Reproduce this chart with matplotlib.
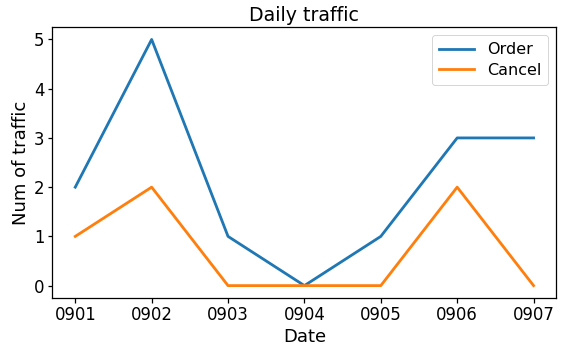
import matplotlib
matplotlib.use("Agg")
import matplotlib.pyplot as plt

dates  = ["0901", "0902", "0903", "0904", "0905", "0906", "0907"]
order  = [2, 5, 1, 0, 1, 3, 3]
cancel = [1, 2, 0, 0, 0, 2, 0]

plt.rcParams.update({
    "font.size": 16.5,
    "axes.labelsize": 18,
    "axes.titlesize": 19,
    "xtick.labelsize": 16.5,
    "ytick.labelsize": 16.5,
    "legend.fontsize": 16,
    "xtick.major.size": 4.5,
    "ytick.major.size": 4.5,
    "xtick.major.width": 1.25,
    "ytick.major.width": 1.25,
    "axes.linewidth": 1.25,
})

fig, ax = plt.subplots(figsize=(569/72, 362/72), dpi=72)
ax.plot(dates, order, label="Order", lw=2.8)
ax.plot(dates, cancel, label="Cancel", lw=2.8)
ax.set_title("Daily traffic")
ax.set_xlabel("Date")
ax.set_ylabel("Num of traffic")
ax.legend(loc="upper right", handlelength=2.2, labelspacing=0.35, borderpad=0.45)

fig.subplots_adjust(left=0.092, right=0.978, top=0.925, bottom=0.177)
fig.savefig("out.png", dpi=72)
